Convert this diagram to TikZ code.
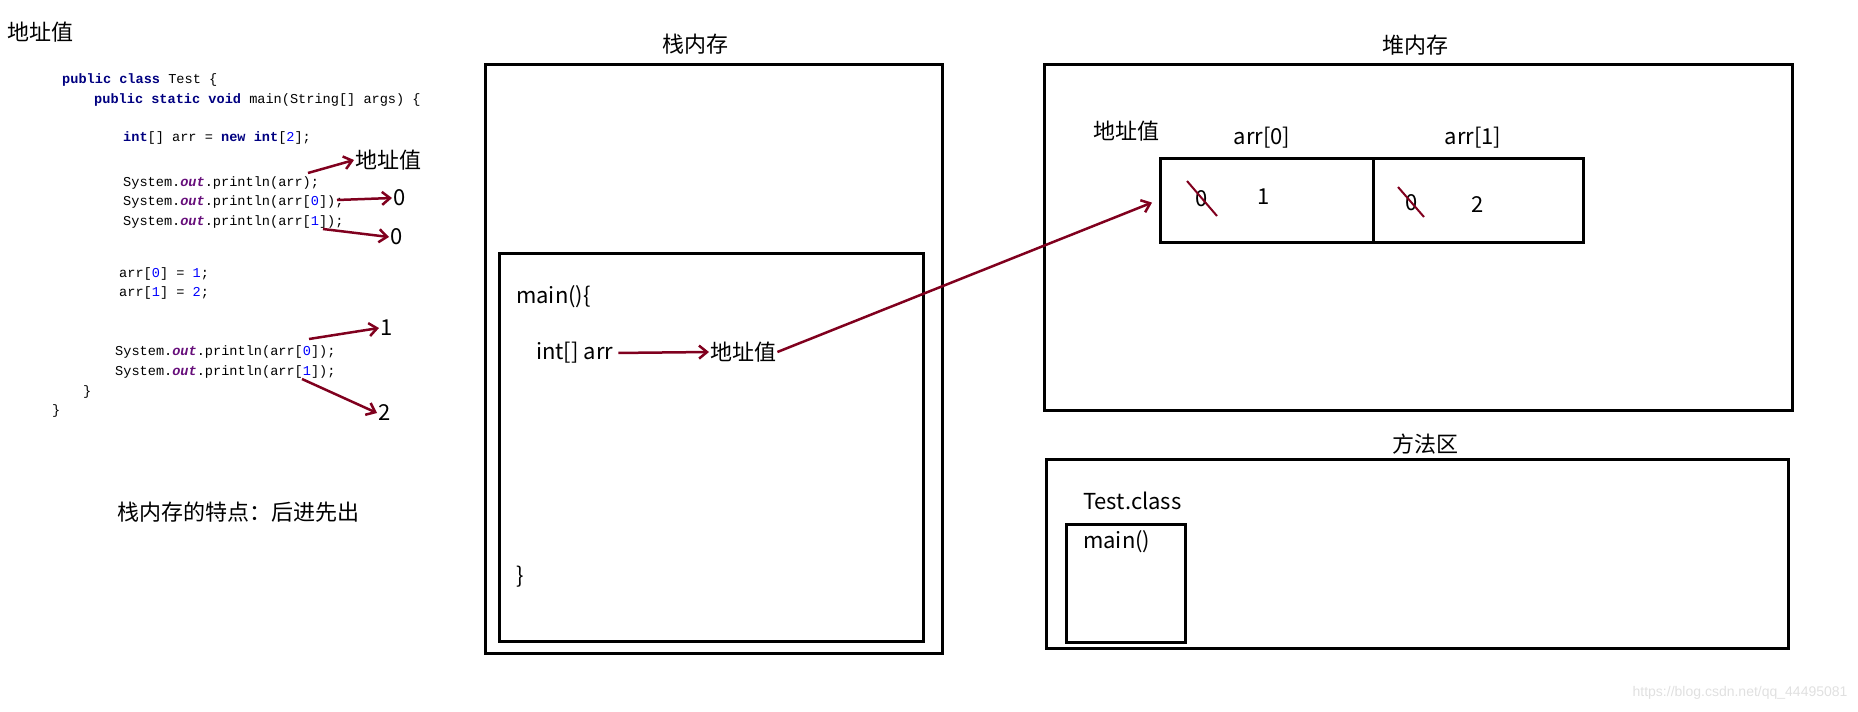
\documentclass[tikz,border=0pt]{standalone}
\usepackage{fontspec}
\setmainfont{Noto Sans CJK SC}
\newfontfamily\codefont{Liberation Mono}
\newfontfamily\markfont{Liberation Sans}
\usetikzlibrary{positioning, arrows.meta}

\definecolor{ptrred}{RGB}{128,0,30}
\definecolor{kwblue}{RGB}{0,0,128}
\definecolor{fieldpurple}{RGB}{102,14,122}
\definecolor{numblue}{RGB}{0,0,255}
\newcommand{\kw}[1]{\textcolor{kwblue}{\bfseries #1}}
\newcommand{\fld}[1]{\textcolor{fieldpurple}{\bfseries\itshape #1}}
\newcommand{\nm}[1]{\textcolor{numblue}{#1}}

\begin{document}
\begin{tikzpicture}[
					x=1pt, y=-1pt,
					font=\fontsize{22}{26}\selectfont,
					membox/.style={
						draw,
						rectangle,
						line width=3pt,
						inner sep=0pt
					},
					codeline/.style={
						anchor=west,
						inner sep=0pt,
						font=\codefont\fontsize{13.6}{16}\selectfont
					},
					lbl/.style={
						inner sep=1pt
					},
					ptr/.style={
						-{Straight Barb[length=8pt, width=13pt]},
						line width=2.5pt,
						color=ptrred
					},
					strike/.style={
						line width=2pt,
						color=ptrred
					}
					]
					\useasboundingbox (0,0) rectangle (1858,712);
					
					% Code
					\node (addrtitle) [lbl, anchor=west] at (6,32) {地址值};
					\node (l1) [codeline] at (62,80) {\kw{public} \kw{class} Test \{};
					\node (l2) [codeline] at (94,100) {\kw{public} \kw{static} \kw{void} main(String[] args) \{};
					\node (l3) [codeline] at (123,138) {\kw{int}[] arr = \kw{new} \kw{int}[\nm{2}];};
					\node (l4) [codeline] at (123,183) {System.\fld{out}.println(arr);};
					\node (l5) [codeline] at (123,202) {System.\fld{out}.println(arr[\nm{0}]);};
					\node (l6) [codeline] at (123,222) {System.\fld{out}.println(arr[\nm{1}]);};
					\node (l7) [codeline] at (119,274) {arr[\nm{0}] = \nm{1};};
					\node (l8) [codeline] at (119,293) {arr[\nm{1}] = \nm{2};};
					\node (l9) [codeline] at (115,352) {System.\fld{out}.println(arr[\nm{0}]);};
					\node (l10) [codeline] at (115,372) {System.\fld{out}.println(arr[\nm{1}]);};
					\node (l11) [codeline] at (83,392) {\}};
					\node (l12) [codeline] at (52,411) {\}};
					\node (stacknote) [lbl, anchor=west] at (116,512) {栈内存的特点：后进先出};
					
					% Printed values
					\node (out1) [lbl, anchor=west] at (354,160) {地址值};
					\node (out2) [lbl, anchor=west] at (392,198) {0};
					\node (out3) [lbl, anchor=west] at (389,237) {0};
					\node (out4) [lbl, anchor=west] at (379,328) {1};
					\node (out5) [lbl, anchor=west] at (377,413) {2};
					\coordinate (from1) at (308,173);
					\coordinate (from2) at (337,200);
					\coordinate (from3) at (323,229);
					\coordinate (from4) at (309,339);
					\coordinate (from5) at (302,379);
					\draw [ptr] (from1) -- (out1.west);
					\draw [ptr] (from2) -- (out2.west);
					\draw [ptr] (from3) -- (out3.west);
					\draw [ptr] (from4) -- (out4.west);
					\draw [ptr] (from5) -- (out5.west);
					
					% Stack
					\node (stack) [membox, minimum width=457pt, minimum height=589pt] at (713.5,358.5) {};
					\node (stacktitle) [lbl] at (695,44) {栈内存};
					\node (frame) [membox, minimum width=424pt, minimum height=388pt] at (711,447) {};
					\node (mainopen) [lbl, anchor=west] at (515,297) {main()\{};
					\node (arrvar) [lbl, anchor=west] at (535,353) {int[] arr};
					\node (arraddr) [lbl, anchor=west] at (709,352) {地址值};
					\node (mainclose) [lbl, anchor=west] at (515,577) {\}};
					
					% Heap
					\node (heap) [membox, minimum width=748pt, minimum height=346pt] at (1418,237) {};
					\node (heaptitle) [lbl] at (1415,45) {堆内存};
					\node (heapaddr) [lbl] at (1126,131) {地址值};
					\node (cell0) [membox, minimum width=213pt, minimum height=84pt] at (1266.5,200) {};
					\node (cell1) [membox, minimum width=210pt, minimum height=84pt, right=-3pt of cell0] {};
					\node (idx0) [lbl] at (1262,138) {arr[0]};
					\node (idx1) [lbl] at (1473,138) {arr[1]};
					\node (old0) [lbl] at (1202,199) {0};
					\node (new0) [lbl] at (1264,197) {1};
					\node (old1) [lbl] at (1412,203) {0};
					\node (new1) [lbl] at (1478,205) {2};
					\draw [strike] (1187,181) -- (1217,216);
					\draw [strike] (1398,187) -- (1424,217);
					
					% Method area
					\node (method) [membox, minimum width=742pt, minimum height=189pt] at (1417,553.5) {};
					\node (methodtitle) [lbl] at (1425,444) {方法区};
					\node (classname) [lbl, anchor=west] at (1082,501) {Test.class};
					\node (mainbox) [membox, minimum width=119pt, minimum height=118pt] at (1125.5,583) {};
					\node (mainsig) [lbl, anchor=west] at (1082,542) {main()};
					
					% Arrows
					\draw [ptr, shorten <=4pt] (arrvar.east) -- (arraddr.west);
					\draw [ptr, shorten >=7pt] (arraddr.east) -- (cell0.west);
					
					\node (mark) [anchor=east, text=black!12, font=\markfont\fontsize{14}{16}\selectfont] at (1851,693) {https://blog.csdn.net/qq\_44495081};
					
				\end{tikzpicture}
\end{document}
